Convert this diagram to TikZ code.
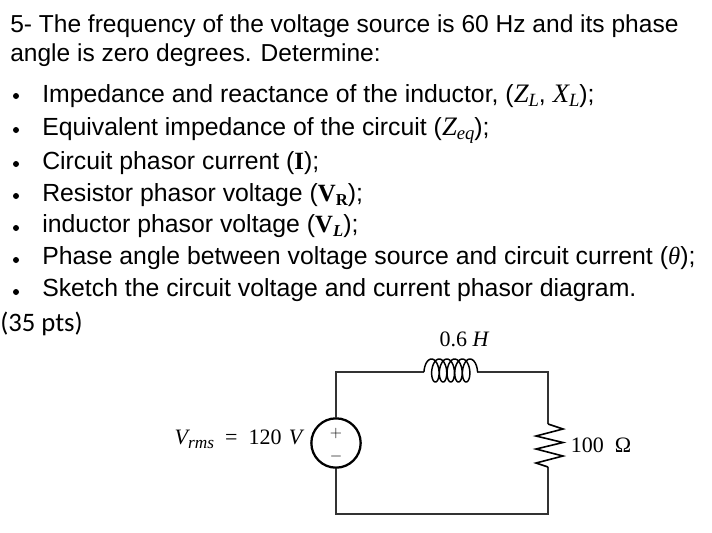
\documentclass[tikz,border=0pt]{standalone}
\usepackage{fontspec}
\setmainfont{Liberation Sans}
\newfontfamily\ptsfont{Carlito}
\newfontfamily\valfont{Liberation Serif}
\newcommand{\mv}[2]{{\valfont\fontsize{20}{20}\selectfont\itshape #1\raisebox{-3pt}{\fontsize{14}{14}\selectfont #2}}}
\newcommand{\cv}[2]{{\itshape #1\raisebox{-3pt}{\fontsize{13}{13}\selectfont #2}}}
\begin{document}
\begin{tikzpicture}[
        x=0.75pt, y=-0.75pt,
        txt/.style={anchor=base west, inner sep=0pt, font=\fontsize{18.4}{18.4}\selectfont},
        itm/.style={txt, font=\fontsize{18.6}{18.6}\selectfont},
        dot/.style={circle, fill=black, inner sep=0pt, minimum size=4.5pt},
        val/.style={inner sep=0pt, font=\valfont\fontsize{16.5}{16.5}\selectfont},
        sign/.style={inner sep=0pt, font=\fontsize{13}{13}\selectfont},
        wire/.style={draw=black!80, line width=0.9pt},
        source/.style={circle, draw=black, line width=1.7pt, minimum size=37pt, inner sep=0pt},
        coilpart/.style={draw=black, line width=1.1pt},
        zigpart/.style={draw=black, line width=1.2pt}
    ]
    \useasboundingbox (0,0) rectangle (712,532);
    \node[txt] (head1) at (10,32) {5- The frequency of the voltage source is 60 Hz and its phase};
    \node[txt] (head2) at (10,61) {angle is zero degrees. Determine:};
    \node[itm] (item1) at (42,102) {Impedance and reactance of the inductor, (\mv{Z}{L}, \mv{X}{L});};
    \node[itm] (item2) at (42,135) {Equivalent impedance of the circuit (\mv{Z}{eq});};
    \node[itm] (item3) at (42,169) {Circuit phasor current ({\valfont\bfseries I});};
    \node[itm] (item4) at (42,201) {Resistor phasor voltage ({\valfont\bfseries V\raisebox{-3pt}{\fontsize{12.5}{12.5}\selectfont R}});};
    \node[itm] (item5) at (42,232) {inductor phasor voltage ({\valfont\bfseries V\raisebox{-3pt}{\fontsize{12.5}{12.5}\selectfont\itshape L}});};
    \node[itm] (item6) at (42,264) {Phase angle between voltage source and circuit current ({\valfont\itshape θ});};
    \node[itm] (item7) at (42,296) {Sketch the circuit voltage and current phasor diagram.};
    \node[txt, font=\ptsfont\fontsize{20}{20}\selectfont] (pts) at (0,331) {(35 pts)};
    % bullets
    \node[dot] (dot1) at (16,96) {};
    \node[dot] (dot2) at (16,130) {};
    \node[dot] (dot3) at (16,164) {};
    \node[dot] (dot4) at (16,196) {};
    \node[dot] (dot5) at (16,228) {};
    \node[dot] (dot6) at (16,260) {};
    \node[dot] (dot7) at (16,292) {};
    % circuit
    \node[source] (vs) at (336,443) {};
    \node[sign] (plus) at (336,433) {$+$};
    \node[sign] (minus) at (336,456) {$-$};
    \coordinate (tl) at (336,372);
    \coordinate (tr) at (548,372);
    \coordinate (br) at (548,514);
    \coordinate (bl) at (336,514);
    \coordinate (La) at (424,372);
    \coordinate (Lb) at (477,372);
    \coordinate (Ra) at (548,424);
    \coordinate (Rb) at (548,467);
    \draw[wire] (vs.north) -- (tl) -- (La);
    \draw[wire] (Lb) -- (tr) -- (Ra);
    \draw[wire] (Rb) -- (br) -- (bl) -- (vs.south);
    \draw[coilpart] plot[samples=240, domain=-98:1898, variable=\t] ({431.5+7.7*\t/360+5.5*sin(\t)},{370.5-11.5*cos(\t)});
    \draw[zigpart] (Ra) -- (563,429) -- (536,436) -- (563,442.5) -- (536,449) -- (563,456) -- (536,463) -- (Rb);
    \node[val] (Lval) at (464,341) {0.6 \cv{H}{}};
    \node[val] (Rval) at (601,445) {100\ \ Ω};
    \node[val] (Vval) at (238.5,439) {\cv{V}{rms}\,\,\,=\,\,\,120\,\,\cv{V}{}};
\end{tikzpicture}
\end{document}
